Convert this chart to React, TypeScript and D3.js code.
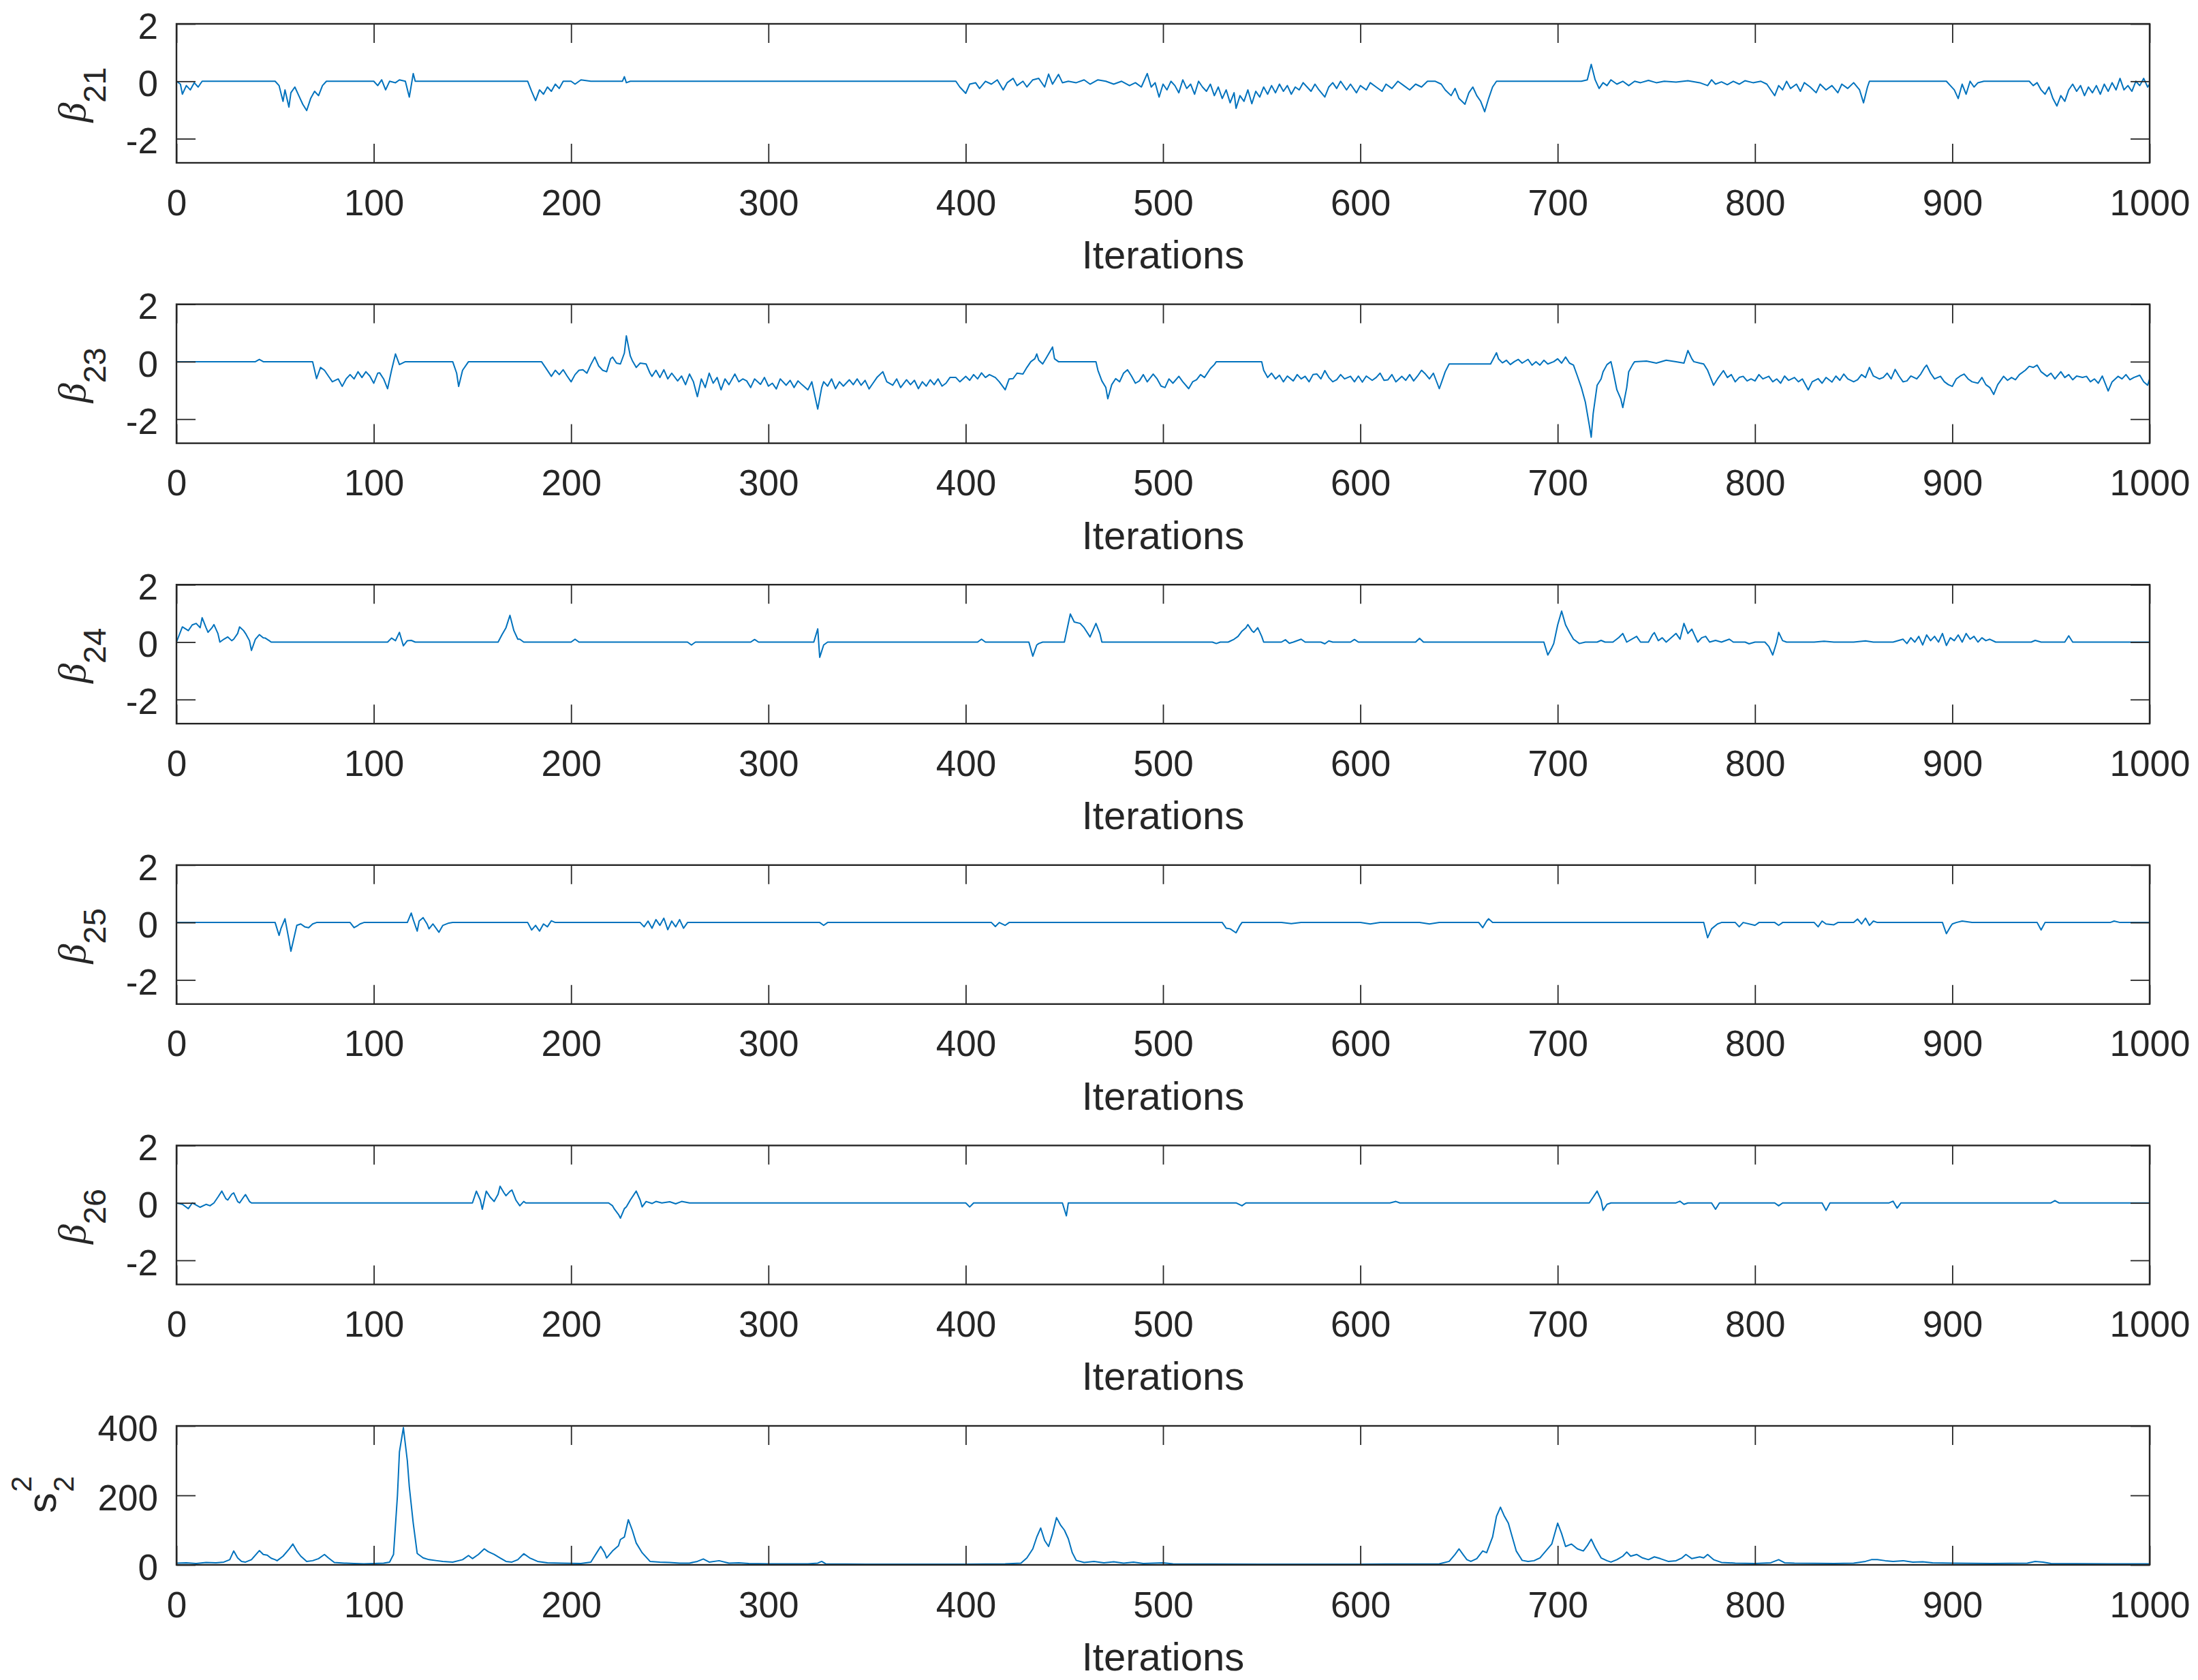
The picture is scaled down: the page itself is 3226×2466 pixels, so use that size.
import React, { useRef, useEffect } from 'react';
import * as d3 from 'd3';

type Pt = [number, number];

// x ticks shared by every panel
const xTicks = [0, 100, 200, 300, 400, 500, 600, 700, 800, 900, 1000];
const betaTicks = [-2, 0, 2];
const s2Ticks = [0, 200, 400];
const xLabel = 'Iterations';

// traces, [iteration, value]
const beta21: Pt[] = [
  [0, 0], [2, -0.1], [3, -0.45], [5, -0.15], [7, -0.3], [9, -0.05], [11, -0.2], [13, 0], [50, 0], [52, -0.15],
  [54, -0.7], [55, -0.3], [57, -0.9], [58, -0.4], [60, -0.2], [62, -0.5], [64, -0.8], [66, -1.02], [68, -0.6],
  [70, -0.35], [72, -0.5], [74, -0.15], [76, 0], [100, 0], [102, -0.15], [104, 0.05], [106, -0.3], [108, 0],
  [111, -0.05], [113, 0.05], [116, 0], [118, -0.55], [120, 0.27], [121, 0], [178, 0], [180, -0.35], [182, -0.67],
  [184, -0.3], [186, -0.45], [188, -0.2], [190, -0.35], [192, -0.1], [194, -0.25], [196, 0], [200, 0], [202, -0.1],
  [205, 0.05], [210, 0], [226, 0], [227, 0.16], [228, -0.05], [230, 0], [395, 0], [397, -0.2], [400, -0.42],
  [402, -0.1], [405, -0.05], [407, -0.25], [410, 0], [413, -0.1], [416, 0.05], [419, -0.3], [421, -0.05],
  [424, 0.1], [426, -0.15], [429, 0], [431, -0.2], [434, 0.05], [437, 0.1], [440, -0.2], [442, 0.25], [444, -0.1],
  [447, 0.24], [449, -0.05], [452, 0], [456, -0.05], [460, 0.05], [463, -0.1], [467, 0.05], [471, 0], [475, -0.1],
  [479, 0], [483, -0.15], [486, -0.05], [489, -0.2], [492, 0.27], [494, -0.2], [496, -0.05], [498, -0.55],
  [500, -0.1], [502, -0.3], [504, 0], [506, -0.15], [508, -0.4], [510, 0.05], [512, -0.25], [514, -0.1],
  [516, -0.45], [518, 0], [520, -0.2], [522, -0.35], [524, -0.1], [526, -0.5], [528, -0.2], [530, -0.6],
  [532, -0.3], [534, -0.75], [536, -0.4], [537, -0.94], [539, -0.5], [541, -0.7], [543, -0.3], [545, -0.78],
  [547, -0.35], [549, -0.55], [551, -0.2], [553, -0.45], [555, -0.15], [557, -0.4], [559, -0.1], [561, -0.35],
  [563, -0.15], [565, -0.45], [567, -0.2], [569, -0.3], [571, -0.05], [573, -0.2], [575, -0.35], [577, -0.1],
  [579, -0.3], [582, -0.55], [584, -0.2], [586, -0.05], [588, -0.25], [590, 0], [593, -0.3], [595, -0.1],
  [598, -0.4], [600, -0.15], [603, -0.3], [605, -0.05], [608, -0.2], [611, -0.35], [613, -0.1], [616, -0.25],
  [619, 0], [622, -0.15], [625, -0.3], [628, -0.1], [631, -0.2], [634, 0], [638, 0], [641, -0.1], [643, -0.3],
  [646, -0.5], [648, -0.25], [650, -0.6], [653, -0.8], [655, -0.4], [657, -0.2], [659, -0.5], [661, -0.7],
  [663, -1.06], [665, -0.6], [667, -0.2], [669, 0], [712, 0], [715, 0.05], [717, 0.59], [719, 0.05], [721, -0.25],
  [723, -0.05], [725, -0.15], [727, 0.05], [730, -0.1], [733, 0], [736, -0.15], [739, 0], [742, -0.05], [746, 0.03],
  [750, -0.05], [754, 0], [760, -0.03], [766, 0.02], [772, -0.05], [776, -0.15], [778, 0.05], [780, -0.1],
  [783, -0.02], [786, -0.12], [789, 0], [792, -0.1], [795, 0.02], [799, -0.05], [803, 0], [806, -0.1], [808, -0.3],
  [810, -0.5], [812, -0.15], [814, -0.3], [816, 0], [818, -0.25], [821, -0.1], [823, -0.35], [825, -0.05],
  [828, -0.2], [831, -0.4], [833, -0.1], [836, -0.3], [839, -0.15], [842, -0.4], [844, -0.1], [847, -0.25],
  [850, -0.05], [853, -0.3], [855, -0.75], [857, -0.2], [858, 0], [897, 0], [899, -0.15], [901, -0.3], [903, -0.6],
  [905, -0.1], [907, -0.45], [909, 0], [911, -0.2], [913, -0.05], [916, 0], [939, 0], [941, -0.15], [943, -0.05],
  [945, -0.3], [947, -0.45], [949, -0.2], [951, -0.6], [953, -0.86], [955, -0.5], [957, -0.7], [959, -0.3],
  [961, -0.1], [963, -0.35], [965, -0.15], [967, -0.5], [969, -0.2], [971, -0.4], [973, -0.15], [975, -0.45],
  [977, -0.1], [979, -0.35], [981, -0.05], [983, -0.3], [985, 0.1], [987, -0.3], [989, -0.15], [991, -0.35],
  [993, 0], [995, -0.15], [997, 0.1], [999, -0.2], [1000, -0.1],
];

const beta23: Pt[] = [
  [0, 0], [40, 0], [42, 0.08], [44, 0], [69, 0], [71, -0.59], [73, -0.2], [75, -0.3], [77, -0.5], [79, -0.7],
  [82, -0.6], [84, -0.86], [86, -0.6], [88, -0.45], [90, -0.6], [92, -0.35], [94, -0.55], [96, -0.35], [98, -0.5],
  [100, -0.75], [102, -0.4], [103, -0.39], [105, -0.6], [107, -0.94], [109, -0.3], [111, 0.27], [113, -0.1],
  [116, 0], [140, 0], [142, -0.4], [143, -0.86], [145, -0.3], [148, 0], [185, 0], [187, -0.2], [190, -0.51],
  [192, -0.3], [194, -0.45], [196, -0.28], [198, -0.5], [200, -0.7], [202, -0.45], [204, -0.3], [206, -0.28],
  [208, -0.4], [210, -0.1], [212, 0.16], [214, -0.15], [216, -0.3], [218, -0.35], [220, 0.1], [221, 0.16],
  [223, -0.05], [225, -0.08], [227, 0.3], [228, 0.9], [230, 0.2], [231, 0.04], [233, -0.2], [235, -0.05],
  [238, -0.08], [240, -0.4], [241, -0.51], [243, -0.3], [245, -0.55], [247, -0.28], [249, -0.6], [251, -0.4],
  [254, -0.67], [256, -0.5], [258, -0.8], [260, -0.43], [262, -0.7], [264, -1.22], [266, -0.6], [268, -0.9],
  [270, -0.4], [272, -0.75], [274, -0.55], [276, -0.98], [278, -0.6], [280, -0.8], [283, -0.43], [285, -0.7],
  [287, -0.6], [289, -0.67], [291, -0.9], [293, -0.6], [296, -0.79], [298, -0.55], [300, -0.85], [302, -0.75],
  [304, -0.95], [306, -0.6], [309, -0.82], [311, -0.65], [313, -0.9], [315, -0.67], [317, -0.8], [320, -0.98],
  [322, -0.7], [325, -1.65], [327, -0.9], [328, -0.7], [330, -0.85], [332, -0.6], [334, -0.94], [336, -0.7],
  [338, -0.85], [341, -0.63], [343, -0.8], [345, -0.6], [347, -0.82], [349, -0.65], [351, -0.95], [353, -0.75],
  [355, -0.55], [358, -0.35], [360, -0.7], [363, -0.82], [365, -0.6], [367, -0.9], [370, -0.63], [372, -0.8],
  [374, -0.65], [376, -0.94], [378, -0.7], [380, -0.85], [382, -0.63], [384, -0.8], [386, -0.6], [388, -0.85],
  [390, -0.75], [392, -0.55], [395, -0.55], [397, -0.7], [400, -0.51], [402, -0.65], [404, -0.45], [406, -0.6],
  [408, -0.39], [410, -0.55], [412, -0.45], [415, -0.55], [417, -0.7], [420, -0.98], [422, -0.6], [424, -0.59],
  [426, -0.4], [429, -0.43], [431, -0.2], [433, 0], [435, 0.1], [436, 0.27], [437, 0.05], [439, -0.08],
  [441, 0.15], [444, 0.51], [445, 0.1], [447, 0], [466, 0], [467, -0.3], [469, -0.67], [471, -0.9], [472, -1.29],
  [474, -0.8], [476, -0.59], [478, -0.7], [480, -0.4], [482, -0.28], [484, -0.5], [486, -0.75], [488, -0.67],
  [490, -0.45], [492, -0.7], [495, -0.43], [497, -0.6], [499, -0.85], [501, -0.9], [503, -0.6], [505, -0.75],
  [508, -0.51], [510, -0.7], [513, -0.94], [515, -0.7], [517, -0.63], [519, -0.45], [521, -0.55], [524, -0.24],
  [526, -0.1], [527, 0], [550, 0], [551, -0.3], [553, -0.55], [555, -0.4], [557, -0.6], [559, -0.47], [561, -0.7],
  [563, -0.5], [566, -0.67], [568, -0.45], [570, -0.6], [572, -0.51], [574, -0.7], [576, -0.45], [578, -0.43],
  [580, -0.6], [582, -0.31], [584, -0.55], [586, -0.7], [588, -0.63], [590, -0.45], [592, -0.6], [595, -0.51],
  [597, -0.7], [599, -0.5], [601, -0.71], [603, -0.5], [606, -0.65], [608, -0.55], [610, -0.4], [612, -0.65],
  [614, -0.63], [616, -0.45], [618, -0.7], [621, -0.51], [623, -0.65], [625, -0.45], [627, -0.67], [629, -0.5],
  [631, -0.3], [633, -0.43], [635, -0.6], [637, -0.4], [640, -0.94], [642, -0.55], [643, -0.35], [645, -0.08],
  [666, -0.08], [669, 0.31], [670, 0.1], [672, -0.04], [674, 0.05], [676, -0.1], [678, 0], [680, 0.08],
  [682, -0.05], [685, 0.08], [687, -0.12], [689, 0], [691, -0.12], [693, 0.05], [695, -0.08], [698, 0], [700, 0.1],
  [702, -0.05], [704, 0.16], [706, -0.05], [708, -0.12], [710, -0.5], [712, -0.9], [714, -1.4], [716, -2.2],
  [717, -2.63], [718, -1.8], [720, -0.82], [722, -0.6], [723, -0.35], [725, -0.1], [727, 0], [728, -0.3],
  [730, -0.98], [732, -1.3], [733, -1.6], [735, -0.9], [736, -0.35], [738, -0.1], [739, 0], [745, 0.02],
  [750, -0.05], [755, 0.05], [760, 0], [764, -0.05], [766, 0.39], [768, 0.1], [769, 0], [772, -0.05], [774, -0.08],
  [776, -0.3], [779, -0.82], [781, -0.6], [784, -0.31], [786, -0.55], [788, -0.45], [790, -0.7], [792, -0.55],
  [794, -0.51], [796, -0.67], [798, -0.6], [800, -0.67], [802, -0.45], [804, -0.6], [807, -0.51], [809, -0.7],
  [811, -0.6], [813, -0.75], [815, -0.5], [817, -0.65], [820, -0.55], [822, -0.7], [824, -0.6], [827, -0.98],
  [829, -0.7], [832, -0.59], [834, -0.75], [836, -0.55], [839, -0.71], [841, -0.5], [843, -0.65], [845, -0.43],
  [847, -0.6], [850, -0.7], [852, -0.63], [854, -0.45], [856, -0.55], [858, -0.2], [860, -0.5], [863, -0.6],
  [865, -0.55], [867, -0.4], [869, -0.6], [871, -0.27], [873, -0.5], [875, -0.7], [877, -0.67], [879, -0.5],
  [882, -0.6], [884, -0.43], [886, -0.2], [887, -0.12], [889, -0.4], [891, -0.6], [894, -0.51], [896, -0.7],
  [898, -0.8], [900, -0.86], [902, -0.6], [904, -0.5], [906, -0.43], [908, -0.6], [910, -0.7], [913, -0.75],
  [915, -0.55], [917, -0.8], [919, -0.9], [921, -1.14], [923, -0.8], [926, -0.51], [928, -0.65], [930, -0.55],
  [932, -0.63], [934, -0.45], [937, -0.3], [939, -0.16], [941, -0.2], [943, -0.12], [945, -0.35], [948, -0.51],
  [950, -0.4], [952, -0.6], [955, -0.35], [957, -0.55], [959, -0.45], [961, -0.63], [963, -0.5], [966, -0.55],
  [968, -0.51], [970, -0.7], [972, -0.6], [974, -0.75], [976, -0.5], [979, -1.02], [981, -0.7], [984, -0.51],
  [986, -0.6], [988, -0.45], [990, -0.63], [992, -0.55], [995, -0.47], [997, -0.7], [999, -0.82], [1000, -0.6],
];

const beta24: Pt[] = [
  [0, 0], [3, 0.53], [6, 0.4], [8, 0.6], [10, 0.65], [12, 0.5], [13, 0.85], [15, 0.5], [16, 0.34], [18, 0.5],
  [19, 0.61], [21, 0.3], [22, 0], [24, 0.1], [26, 0.18], [28, 0.05], [29, 0.1], [31, 0.3], [32, 0.53], [34, 0.4],
  [35, 0.3], [37, 0.05], [38, -0.29], [40, 0.1], [42, 0.26], [44, 0.15], [45, 0.14], [47, 0.05], [48, 0],
  [107, 0], [109, 0.14], [111, 0.05], [113, 0.34], [115, -0.13], [117, 0.05], [119, 0.06], [121, 0], [163, 0],
  [165, 0.26], [167, 0.5], [169, 0.93], [171, 0.4], [173, 0.1], [174, 0.1], [176, 0], [200, 0], [202, 0.1],
  [204, 0], [259, 0], [261, -0.1], [263, 0], [291, 0], [293, 0.09], [295, 0], [323, 0], [325, 0.46], [326, -0.53],
  [328, -0.1], [330, 0], [406, 0], [408, 0.1], [410, 0], [432, 0], [434, -0.49], [436, -0.1], [437, -0.05],
  [439, 0], [450, 0], [453, 0.98], [455, 0.7], [458, 0.65], [460, 0.5], [463, 0.18], [466, 0.65], [468, 0.3],
  [469, 0], [525, 0], [527, -0.05], [529, 0], [533, 0], [536, 0.1], [538, 0.2], [540, 0.38], [542, 0.5],
  [543, 0.61], [545, 0.4], [546, 0.34], [548, 0.5], [550, 0.2], [551, 0], [560, 0], [562, 0.08], [564, -0.04],
  [566, 0], [570, 0.1], [572, 0], [580, 0], [582, -0.06], [584, 0.04], [586, 0], [595, 0], [597, 0.09], [599, 0],
  [628, 0], [630, 0.13], [632, 0], [693, 0], [695, -0.45], [697, -0.2], [698, -0.05], [700, 0.6], [702, 1.08],
  [704, 0.6], [706, 0.34], [708, 0.1], [711, -0.05], [714, 0], [720, 0], [722, 0.06], [724, 0], [728, 0],
  [731, 0.16], [733, 0.3], [735, 0], [740, 0.2], [742, 0], [746, 0], [748, 0.25], [749, 0.33], [751, 0.05],
  [753, 0.15], [755, 0], [760, 0.3], [762, 0.1], [764, 0.65], [766, 0.3], [768, 0.45], [769, 0.3], [771, 0],
  [773, 0.15], [775, 0.2], [777, 0], [780, 0.06], [783, 0], [787, 0.1], [789, 0], [795, 0], [797, -0.06],
  [800, 0], [805, 0], [807, -0.15], [809, -0.45], [811, 0], [812, 0.34], [814, 0.05], [816, 0], [830, 0],
  [835, 0.03], [840, 0], [850, 0], [856, 0.04], [860, 0], [870, 0], [875, 0.1], [877, -0.05], [879, 0.15],
  [881, 0], [883, 0.2], [885, -0.1], [887, 0.25], [889, 0.05], [891, 0.2], [893, 0], [895, 0.3], [897, -0.12],
  [899, 0.15], [901, 0.05], [903, 0.25], [905, 0], [907, 0.3], [909, 0.1], [911, 0.2], [913, 0], [915, 0.15],
  [917, 0.05], [919, 0.1], [922, 0], [940, 0], [942, 0.06], [945, 0], [957, 0], [959, 0.22], [961, 0], [1000, 0],
];

const beta25: Pt[] = [
  [0, 0], [50, 0], [52, -0.45], [53, -0.2], [55, 0.13], [57, -0.6], [58, -1.0], [60, -0.4], [61, -0.1],
  [63, -0.05], [65, -0.15], [67, -0.18], [69, -0.05], [71, 0], [88, 0], [90, -0.18], [92, -0.1], [93, -0.05],
  [95, 0], [117, 0], [119, 0.33], [120, 0.1], [122, -0.3], [123, 0.05], [125, 0.17], [127, -0.05], [128, -0.22],
  [130, -0.05], [133, -0.34], [135, -0.1], [138, -0.02], [140, 0], [178, 0], [180, -0.26], [182, -0.1],
  [184, -0.3], [186, -0.05], [188, -0.15], [190, 0.06], [192, 0], [235, 0], [237, -0.15], [239, 0.05], [241, -0.2],
  [243, 0.1], [245, -0.1], [247, 0.15], [249, -0.25], [251, 0.05], [253, -0.15], [255, 0.1], [257, -0.2],
  [259, 0], [326, 0], [328, -0.1], [330, 0], [413, 0], [415, -0.14], [417, 0], [420, -0.1], [422, 0], [530, 0],
  [532, -0.2], [534, -0.22], [537, -0.36], [539, -0.1], [540, 0], [560, 0], [565, -0.04], [570, 0], [600, 0],
  [605, -0.05], [610, 0], [630, 0], [635, -0.05], [640, 0], [660, 0], [662, -0.18], [664, 0.05], [665, 0.13],
  [667, 0], [774, 0], [776, -0.53], [778, -0.22], [781, -0.05], [783, 0], [790, 0], [792, -0.15], [794, 0],
  [800, -0.1], [802, 0], [810, 0], [812, -0.1], [814, 0], [830, 0], [832, -0.15], [834, 0.05], [836, -0.05],
  [840, -0.08], [842, 0], [850, 0], [852, 0.12], [854, -0.05], [856, 0.15], [858, -0.1], [860, 0.05], [862, 0],
  [895, 0], [897, -0.39], [899, -0.15], [900, -0.05], [902, 0], [905, 0.05], [910, 0], [943, 0], [945, -0.26],
  [947, 0], [980, 0], [982, 0.05], [985, 0], [1000, 0],
];

const beta26: Pt[] = [
  [0, 0], [3, -0.05], [6, -0.2], [8, 0], [12, -0.15], [15, -0.05], [17, -0.1], [19, 0], [21, 0.2], [23, 0.41],
  [25, 0.15], [26, 0.1], [28, 0.3], [29, 0.35], [31, 0.05], [32, 0], [34, 0.2], [35, 0.29], [37, 0.05], [38, 0],
  [150, 0], [152, 0.41], [154, 0.1], [155, -0.22], [157, 0.41], [159, 0.2], [161, 0.05], [163, 0.3], [164, 0.58],
  [166, 0.35], [167, 0.25], [169, 0.4], [170, 0.45], [172, 0.1], [174, -0.1], [176, 0.05], [177, 0], [219, 0],
  [221, -0.1], [222, -0.22], [224, -0.4], [225, -0.53], [227, -0.2], [228, -0.14], [230, 0.1], [233, 0.41],
  [235, 0.1], [236, -0.14], [238, 0.05], [241, -0.02], [243, 0.05], [246, 0], [250, 0.04], [253, -0.03],
  [256, 0.05], [260, 0], [400, 0], [402, -0.14], [404, 0], [449, 0], [451, -0.45], [452, 0], [537, 0],
  [540, -0.1], [542, 0], [615, 0], [618, 0.05], [620, 0], [716, 0], [718, 0.2], [720, 0.41], [722, 0.1],
  [723, -0.26], [725, -0.05], [727, 0], [760, 0], [762, 0.06], [764, -0.05], [766, 0], [778, 0], [780, -0.22],
  [782, 0], [810, 0], [812, -0.1], [814, 0], [834, 0], [836, -0.26], [838, 0], [868, 0], [870, 0.06],
  [872, -0.18], [874, 0], [950, 0], [952, 0.08], [954, 0], [1000, 0],
];

const s2: Pt[] = [
  [0, 5], [5, 6], [10, 4], [15, 7], [20, 6], [24, 8], [27, 15], [29, 40], [31, 20], [33, 10], [35, 8], [38, 15],
  [42, 41], [44, 30], [46, 28], [48, 19], [50, 15], [51, 12], [54, 25], [57, 45], [59, 60], [61, 40], [63, 25],
  [66, 10], [69, 12], [72, 18], [75, 30], [77, 20], [80, 7], [85, 5], [90, 4], [95, 3], [100, 4], [105, 5],
  [108, 8], [110, 30], [112, 200], [113, 325], [115, 395], [117, 300], [118, 225], [120, 120], [122, 33],
  [125, 20], [128, 15], [132, 12], [135, 10], [140, 8], [145, 15], [148, 27], [150, 18], [153, 30], [156, 46],
  [158, 38], [161, 30], [164, 20], [167, 10], [170, 8], [173, 15], [176, 32], [179, 20], [183, 10], [188, 6],
  [195, 5], [205, 4], [210, 8], [213, 35], [215, 53], [217, 35], [218, 20], [221, 40], [224, 55], [225, 73],
  [227, 80], [229, 130], [231, 100], [233, 63], [236, 35], [240, 10], [245, 8], [250, 7], [255, 5], [260, 5],
  [264, 10], [267, 17], [270, 8], [275, 12], [280, 5], [285, 6], [290, 4], [300, 3], [320, 3], [325, 5],
  [327, 10], [329, 3], [350, 2], [400, 2], [420, 3], [428, 5], [431, 20], [434, 46], [436, 80], [438, 106],
  [440, 70], [442, 53], [444, 90], [446, 136], [448, 115], [450, 100], [452, 75], [454, 35], [456, 13], [460, 7],
  [465, 10], [470, 6], [475, 9], [480, 5], [485, 8], [490, 4], [500, 6], [505, 3], [550, 2], [600, 2], [640, 3],
  [645, 10], [648, 30], [650, 46], [652, 30], [654, 15], [656, 10], [659, 18], [662, 40], [664, 35], [667, 80],
  [669, 140], [671, 166], [673, 140], [675, 120], [677, 80], [679, 40], [682, 13], [685, 10], [688, 12],
  [691, 20], [694, 40], [697, 60], [699, 100], [700, 120], [702, 90], [704, 53], [707, 60], [710, 46], [713, 40],
  [715, 55], [717, 74], [719, 50], [722, 20], [725, 12], [727, 8], [730, 15], [733, 25], [735, 37], [737, 25],
  [740, 30], [743, 20], [746, 15], [749, 23], [752, 18], [756, 10], [760, 12], [763, 20], [765, 30], [768, 18],
  [772, 23], [774, 20], [776, 30], [779, 15], [783, 7], [790, 5], [800, 4], [808, 6], [812, 15], [815, 6],
  [820, 5], [840, 4], [850, 5], [856, 10], [859, 15], [862, 15], [866, 12], [870, 10], [875, 12], [880, 8],
  [885, 9], [890, 6], [900, 5], [920, 4], [938, 5], [942, 10], [946, 8], [950, 4], [980, 3], [1000, 3],
];

const betaSubs = ['21', '23', '24', '25', '26'];
const betaSeries = [beta21, beta23, beta24, beta25, beta26];

const FONT = '"Liberation Sans", Arial, Helvetica, sans-serif';
const INK = '#262626';
const LINE = '#0072BD';
const plain = (d: d3.NumberValue) => String(d);

export default function App() {
  const ref = useRef<SVGSVGElement | null>(null);

  useEffect(() => {
    document.body.style.margin = '0';
    if (!ref.current) return;
    const svg = d3.select(ref.current);
    svg.selectAll('*').remove();

    const left = 259;
    const right = 3155;
    const h = 204;
    const step = 411.6;
    const x = d3.scaleLinear().domain([0, 1000]).range([left, right]);

    const panels = [
      ...betaSeries.map((data, i) => ({ data, sub: betaSubs[i], domain: [-2.84, 2], ticks: betaTicks })),
      { data: s2, sub: null as string | null, domain: [0, 400], ticks: s2Ticks },
    ];

    panels.forEach((p, i) => {
      const top = 35 + i * step;
      const y = d3.scaleLinear().domain(p.domain).range([h, 0]);
      const g = svg.append('g').attr('transform', `translate(0,${top})`);

      // the trace
      g.append('path')
        .datum(p.data)
        .attr('fill', 'none')
        .attr('stroke', LINE)
        .attr('stroke-width', 2)
        .attr('stroke-linejoin', 'round')
        .attr('d', d3.line<Pt>().x(d => x(d[0])).y(d => y(d[1])));

      // inward ticks on all four sides, MATLAB style
      const bottom = g.append('g').attr('transform', `translate(0,${h})`)
        .call(d3.axisBottom(x).tickValues(xTicks).tickFormat(plain).tickSizeInner(-28).tickSizeOuter(0).tickPadding(39));
      const topAx = g.append('g')
        .call(d3.axisTop(x).tickValues(xTicks).tickSizeInner(-28).tickSizeOuter(0).tickFormat(() => ''));
      const leftAx = g.append('g').attr('transform', `translate(${left},0)`)
        .call(d3.axisLeft(y).tickValues(p.ticks).tickFormat(plain).tickSizeInner(-28).tickSizeOuter(0).tickPadding(27));
      const rightAx = g.append('g').attr('transform', `translate(${right},0)`)
        .call(d3.axisRight(y).tickValues(p.ticks).tickSizeInner(-28).tickSizeOuter(0).tickFormat(() => ''));

      [bottom, topAx, leftAx, rightAx].forEach(ax => {
        ax.select('.domain').remove();
        ax.attr('font-family', FONT).attr('font-size', 53);
        ax.selectAll('line').attr('stroke', INK).attr('stroke-width', 1.8);
        ax.selectAll('text').attr('fill', INK);
      });
      leftAx.selectAll('text').attr('dy', '0.4em');

      g.append('rect')
        .attr('x', left).attr('y', 0)
        .attr('width', right - left).attr('height', h)
        .attr('fill', 'none').attr('stroke', INK).attr('stroke-width', 2.4);

      g.append('text')
        .attr('x', (left + right) / 2)
        .attr('y', h + 155)
        .attr('text-anchor', 'middle')
        .attr('font-family', FONT)
        .attr('font-size', 58)
        .attr('fill', INK)
        .text(xLabel);

      // y label, rotated
      if (p.sub) {
        const lab = g.append('g').attr('transform', `translate(125,${h / 2 + 2}) rotate(-90)`)
          .append('text')
          .attr('text-anchor', 'middle')
          .attr('fill', INK);
        lab.append('tspan')
          .attr('font-family', '"Liberation Serif", "DejaVu Serif", serif')
          .attr('font-style', 'italic')
          .attr('font-size', 58)
          .text('β');
        lab.append('tspan')
          .attr('font-family', FONT)
          .attr('font-size', 47)
          .attr('dy', 30)
          .text(p.sub);
      } else {
        const lab = g.append('g').attr('transform', `translate(82,${h / 2}) rotate(-90)`)
          .attr('font-family', FONT).attr('fill', INK);
        lab.append('text').attr('x', -26).attr('y', 0).attr('font-size', 60).text('s');
        lab.append('text').attr('x', 5).attr('y', -36).attr('font-size', 42).text('2');
        lab.append('text').attr('x', 5).attr('y', 26).attr('font-size', 42).text('2');
      }
    });
  }, []);

  return <svg ref={ref} width={3226} height={2466} style={{ display: 'block', background: '#fff' }} />;
}
